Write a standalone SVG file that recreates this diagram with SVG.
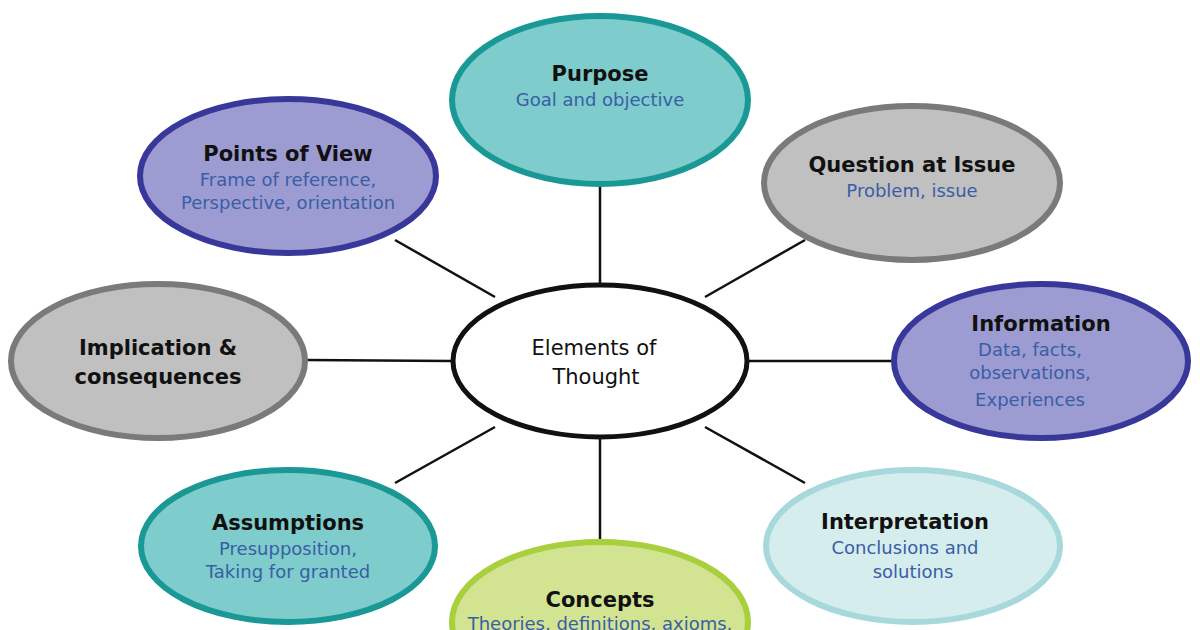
<svg xmlns="http://www.w3.org/2000/svg" width="1200" height="630" viewBox="0 0 1200 630">
<style>
.t{font-family:"DejaVu Sans",sans-serif;font-size:21px;fill:#111;text-anchor:middle;font-weight:bold}
.s{font-family:"DejaVu Sans",sans-serif;font-size:18px;fill:#3a5ea6;text-anchor:middle}
.n{stroke-width:6}
.teal{fill:#7ecccb;stroke:#1a9896}
.gray{fill:#c0c0c0;stroke:#7a7a7a}
.pur{fill:#9c9cd2;stroke:#38379a}
.lt{fill:#d5eded;stroke:#a6d8dc}
.grn{fill:#d2e392;stroke:#a8cf3c}
line{stroke:#111;stroke-width:2.5}
</style>
<rect width="1200" height="630" fill="#fff"/>
<g id="connectors">
<line x1="600" y1="185" x2="600" y2="285"/>
<line x1="705" y1="297" x2="805" y2="240"/>
<line x1="748" y1="361" x2="893" y2="361"/>
<line x1="705" y1="427" x2="805" y2="483"/>
<line x1="600" y1="438" x2="600" y2="540"/>
<line x1="495" y1="427" x2="395" y2="483"/>
<line x1="306" y1="360" x2="452" y2="361"/>
<line x1="495" y1="297" x2="395" y2="240"/>
</g>
<g id="center"><ellipse cx="600" cy="361" rx="147" ry="76" fill="#fff" stroke="#111" stroke-width="5"/>
<text class="t" x="594" y="355" style="font-weight:normal">Elements of</text><text class="t" x="596" y="384" style="font-weight:normal">Thought</text></g>
<g id="purpose"><ellipse class="n teal" cx="600" cy="100" rx="148" ry="84"/>
<text class="t" x="600" y="81">Purpose</text><text class="s" x="600" y="106">Goal and objective</text></g>
<g id="question"><ellipse class="n gray" cx="912" cy="183" rx="148" ry="77"/>
<text class="t" x="912" y="172">Question at Issue</text><text class="s" x="912" y="197">Problem, issue</text></g>
<g id="information"><ellipse class="n pur" cx="1041" cy="361" rx="147" ry="77"/>
<text class="t" x="1041" y="331">Information</text><text class="s" x="1030" y="356">Data, facts,</text><text class="s" x="1030" y="379">observations,</text><text class="s" x="1030" y="406">Experiences</text></g>
<g id="interpretation"><ellipse class="n lt" cx="913" cy="546" rx="147" ry="76"/>
<text class="t" x="905" y="529">Interpretation</text><text class="s" x="905" y="554">Conclusions and</text><text class="s" x="913" y="578">solutions</text></g>
<g id="concepts"><ellipse class="n grn" cx="600" cy="622" rx="148" ry="80"/>
<text class="t" x="600" y="607">Concepts</text><text class="s" x="600" y="630">Theories, definitions, axioms,</text></g>
<g id="assumptions"><ellipse class="n teal" cx="288" cy="546" rx="147" ry="76"/>
<text class="t" x="288" y="530">Assumptions</text><text class="s" x="288" y="555">Presupposition,</text><text class="s" x="288" y="578">Taking for granted</text></g>
<g id="implication"><ellipse class="n gray" cx="158" cy="361" rx="147" ry="77"/>
<text class="t" x="158" y="355">Implication &amp;</text><text class="t" x="158" y="384">consequences</text></g>
<g id="pov"><ellipse class="n pur" cx="288" cy="176" rx="148" ry="77"/>
<text class="t" x="288" y="161">Points of View</text><text class="s" x="288" y="186">Frame of reference,</text><text class="s" x="288" y="209">Perspective, orientation</text></g>
</svg>
